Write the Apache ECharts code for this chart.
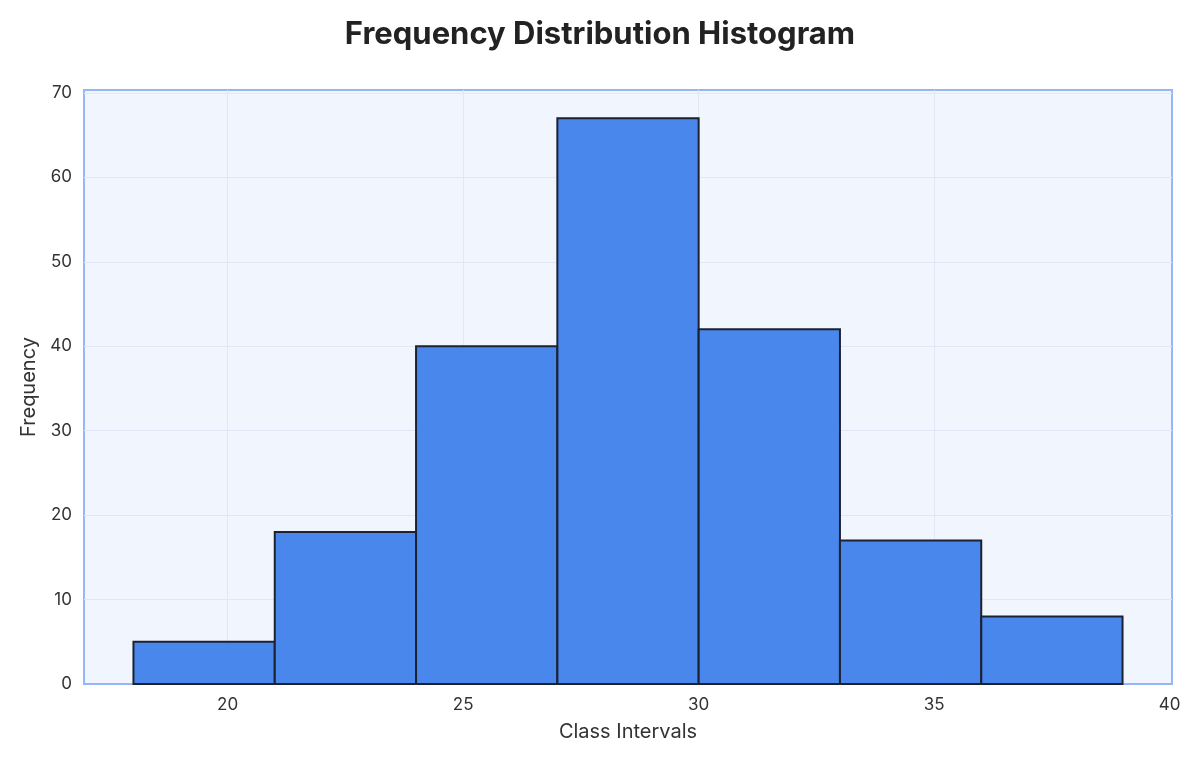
<!DOCTYPE html>
<html>
<head>
<meta charset="utf-8">
<script src="https://cdn.jsdelivr.net/npm/echarts@6/dist/echarts.min.js"></script>
<style>
  html, body { margin: 0; padding: 0; background: #ffffff; }
  #main { width: 1200px; height: 761px; }
</style>
</head>
<body>
<div id="main"></div>
<script>
// class intervals (left and right edges) and their counts
var binStarts = [18, 21, 24, 27, 30, 33, 36];
var binEnds = [21, 24, 27, 30, 33, 36, 39];
var frequencies = [5, 18, 40, 67, 42, 17, 8];
var xTicks = [20, 25, 30, 35, 40];
var yTicks = [0, 10, 20, 30, 40, 50, 60, 70];

var font = 'Inter, "Noto Sans", sans-serif';

var data = [];
for (var i = 0; i < frequencies.length; i++) {
    data.push([binStarts[i], binEnds[i], frequencies[i]]);
}

var myChart = echarts.init(document.getElementById('main'));
myChart.setOption({
    backgroundColor: '#ffffff',
    title: {
        text: 'Frequency Distribution Histogram',
        left: 'center',
        top: 14,
        textStyle: { fontFamily: font, fontSize: 31, fontWeight: 'bold', color: '#222222' }
    },
    grid: {
        left: 84, right: 28, top: 90, bottom: 77,
        show: true,
        backgroundColor: '#f1f6fe',
        borderColor: '#94b8f7',
        borderWidth: 2
    },
    xAxis: {
        type: 'value',
        min: 16.95,
        max: 40.05,
        splitNumber: 5,
        name: 'Class Intervals',
        nameLocation: 'middle',
        nameGap: 38,
        nameTextStyle: { fontFamily: font, fontSize: 20, color: '#333333' },
        axisLine: { show: false },
        axisTick: { show: false },
        axisLabel: {
            fontFamily: font, fontSize: 17, color: '#333333', margin: 12,
            formatter: function (v) { return xTicks.indexOf(v) >= 0 ? String(v) : ''; }
        },
        splitLine: {
            show: true,
            lineStyle: {
                // no split line on the plot edges so the border keeps its colour
                color: ['transparent', '#e0e8f7', '#e0e8f7', '#e0e8f7', '#e0e8f7', 'transparent'],
                width: 1
            }
        }
    },
    yAxis: {
        type: 'value',
        min: 0,
        max: 70.35,
        interval: 10,
        name: 'Frequency',
        nameLocation: 'middle',
        nameGap: 45,
        nameTextStyle: { fontFamily: font, fontSize: 20, color: '#333333' },
        axisLine: { show: false },
        axisTick: { show: false },
        axisLabel: {
            fontFamily: font, fontSize: 17, color: '#333333', margin: 12,
            formatter: function (v) { return yTicks.indexOf(v) >= 0 ? String(v) : ''; }
        },
        splitLine: {
            show: true,
            lineStyle: {
                color: ['transparent', '#e0e8f7', '#e0e8f7', '#e0e8f7', '#e0e8f7', '#e0e8f7', '#e0e8f7', '#e0e8f7', 'transparent'],
                width: 1
            }
        }
    },
    series: [{
        type: 'custom',
        data: data,
        encode: { x: [0, 1], y: 2 },
        renderItem: function (params, api) {
            var topLeft = api.coord([api.value(0), api.value(2)]);
            var bottomRight = api.coord([api.value(1), 0]);
            return {
                type: 'rect',
                shape: {
                    x: topLeft[0],
                    y: topLeft[1],
                    width: bottomRight[0] - topLeft[0],
                    height: bottomRight[1] - topLeft[1]
                },
                style: {
                    fill: 'rgba(62,128,236,0.94)',
                    stroke: '#1c2230',
                    lineWidth: 2
                }
            };
        }
    }]
});
</script>
</body>
</html>
